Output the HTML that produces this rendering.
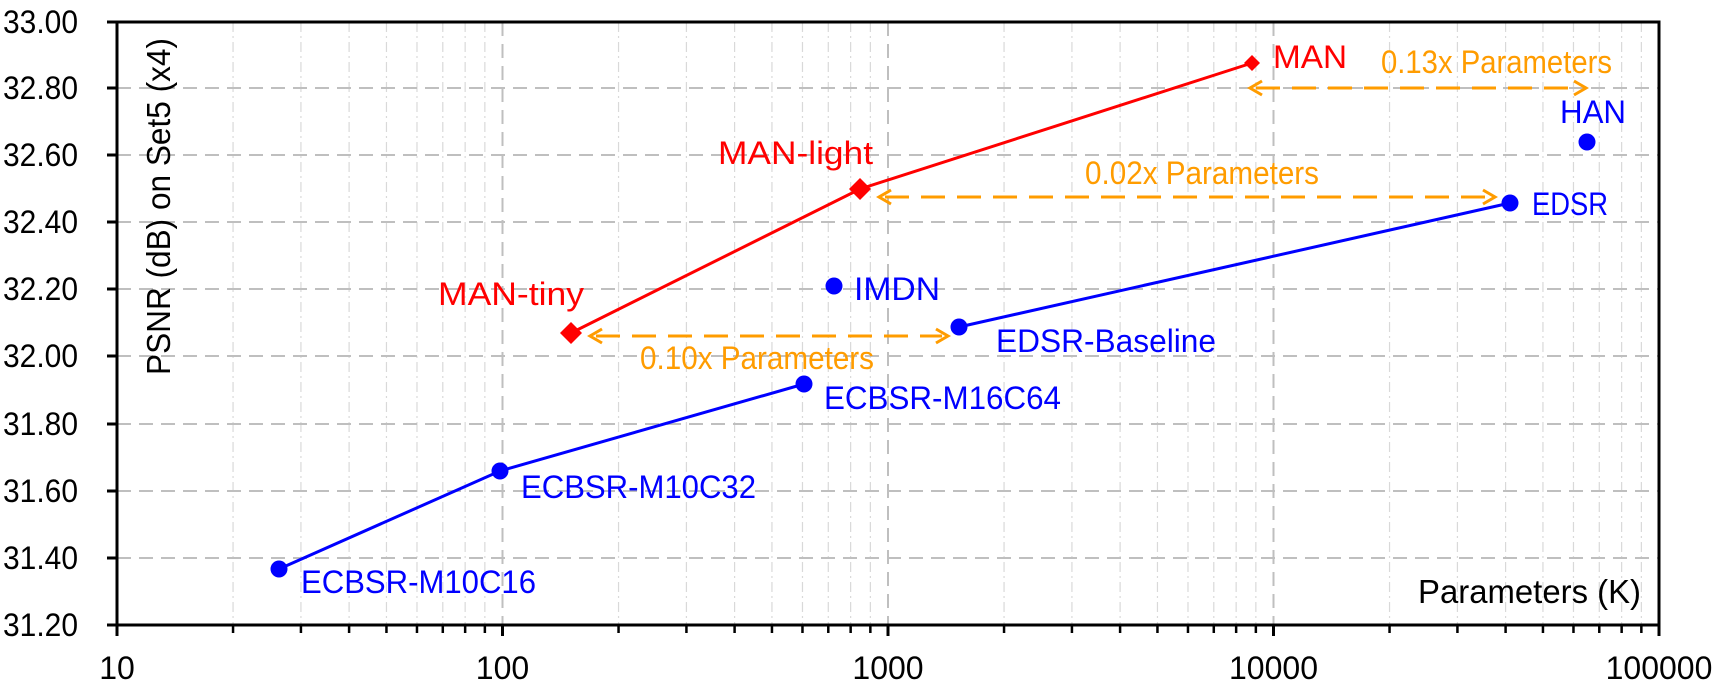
<!DOCTYPE html>
<html><head><meta charset="utf-8"><style>
html,body{margin:0;padding:0;background:#fff;}
svg{display:block;}
text{font-family:"Liberation Sans",sans-serif;font-size:32px;}
</style></head><body>
<svg width="1724" height="691" viewBox="0 0 1724 691" xmlns="http://www.w3.org/2000/svg">
<g id="minor" stroke="#d9d9d9" stroke-width="1.2" stroke-dasharray="10 4 2 4">
</g>
<script>
(function(){
var g=document.getElementById('minor');var ns="http://www.w3.org/2000/svg";
var L=117,D=385.5;
for(var d=0;d<4;d++){for(var k=2;k<=9;k++){var x=L+D*(d+Math.log10(k));
var l=document.createElementNS(ns,'line');l.setAttribute('x1',x);l.setAttribute('x2',x);l.setAttribute('y1',22);l.setAttribute('y2',625);g.appendChild(l);
var t=document.createElementNS(ns,'line');t.setAttribute('x1',x);t.setAttribute('x2',x);t.setAttribute('y1',625);t.setAttribute('y2',633);t.setAttribute('stroke','#000');t.setAttribute('stroke-width','2.5');t.setAttribute('stroke-dasharray','none');g.appendChild(t);}}
})();
</script>
<g stroke="#bfbfbf" stroke-width="2" stroke-dasharray="14 8">
<line x1="502.5" y1="22" x2="502.5" y2="625"/>
<line x1="888" y1="22" x2="888" y2="625"/>
<line x1="1273.5" y1="22" x2="1273.5" y2="625"/>
<line x1="117" y1="88" x2="1659" y2="88"/>
<line x1="117" y1="155" x2="1659" y2="155"/>
<line x1="117" y1="222" x2="1659" y2="222"/>
<line x1="117" y1="289" x2="1659" y2="289"/>
<line x1="117" y1="356" x2="1659" y2="356"/>
<line x1="117" y1="424" x2="1659" y2="424"/>
<line x1="117" y1="491" x2="1659" y2="491"/>
<line x1="117" y1="558" x2="1659" y2="558"/>
</g>
<g stroke="#000" stroke-width="3">
<rect x="117" y="22" width="1542" height="603" fill="none"/>
<line x1="107" y1="22" x2="117" y2="22"/><line x1="107" y1="88" x2="117" y2="88"/><line x1="107" y1="155" x2="117" y2="155"/><line x1="107" y1="222" x2="117" y2="222"/><line x1="107" y1="289" x2="117" y2="289"/><line x1="107" y1="356" x2="117" y2="356"/><line x1="107" y1="424" x2="117" y2="424"/><line x1="107" y1="491" x2="117" y2="491"/><line x1="107" y1="558" x2="117" y2="558"/><line x1="107" y1="625" x2="117" y2="625"/>
<line x1="117" y1="625" x2="117" y2="636"/><line x1="502.5" y1="625" x2="502.5" y2="636"/><line x1="888" y1="625" x2="888" y2="636"/><line x1="1273.5" y1="625" x2="1273.5" y2="636"/><line x1="1659" y1="625" x2="1659" y2="636"/>
</g>
<g fill="#000">
<text x="3" y="33" textLength="75" lengthAdjust="spacingAndGlyphs">33.00</text><text x="3" y="99" textLength="75" lengthAdjust="spacingAndGlyphs">32.80</text><text x="3" y="166" textLength="75" lengthAdjust="spacingAndGlyphs">32.60</text><text x="3" y="233" textLength="75" lengthAdjust="spacingAndGlyphs">32.40</text><text x="3" y="300" textLength="75" lengthAdjust="spacingAndGlyphs">32.20</text><text x="3" y="367" textLength="75" lengthAdjust="spacingAndGlyphs">32.00</text><text x="3" y="435" textLength="75" lengthAdjust="spacingAndGlyphs">31.80</text><text x="3" y="502" textLength="75" lengthAdjust="spacingAndGlyphs">31.60</text><text x="3" y="569" textLength="75" lengthAdjust="spacingAndGlyphs">31.40</text><text x="3" y="636" textLength="75" lengthAdjust="spacingAndGlyphs">31.20</text>
</g>
<g fill="#000" text-anchor="middle">
<text x="117" y="679">10</text><text x="502.5" y="679">100</text><text x="888" y="679">1000</text><text x="1273.5" y="679">10000</text><text x="1659" y="679">100000</text>
</g>
<text x="1418" y="603" textLength="223" lengthAdjust="spacingAndGlyphs" fill="#000" style="font-size:33px">Parameters (K)</text>
<text transform="translate(170,375) rotate(-90)" textLength="337" lengthAdjust="spacingAndGlyphs" fill="#000" style="font-size:33px">PSNR (dB) on Set5 (x4)</text>
<g stroke="#ff9c00" stroke-width="3" fill="none">
<line x1="1256" y1="88" x2="1580" y2="88" stroke-dasharray="24 12"/>
<polyline points="1262,81 1250,88 1262,95"/><polyline points="1574,81 1586,88 1574,95"/>
<line x1="885" y1="197" x2="1489" y2="197" stroke-dasharray="24 12"/>
<polyline points="891,190 879,197 891,204"/><polyline points="1483,190 1495,197 1483,204"/>
<line x1="596" y1="336" x2="942" y2="336" stroke-dasharray="24 12"/>
<polyline points="602,329 590,336 602,343"/><polyline points="936,329 948,336 936,343"/>
</g>
<g fill="#ff9c00" style="font-size:33px">
<text x="1381" y="73" textLength="231" lengthAdjust="spacingAndGlyphs">0.13x Parameters</text>
<text x="1085" y="184" textLength="234" lengthAdjust="spacingAndGlyphs">0.02x Parameters</text>
<text x="640" y="369" textLength="234" lengthAdjust="spacingAndGlyphs">0.10x Parameters</text>
</g>
<g stroke="#0000ff" stroke-width="3" fill="none">
<polyline points="279,569 500,471 804,384"/>
<line x1="959" y1="327" x2="1510" y2="203"/>
</g>
<g fill="#0000ff" style="font-size:33px">
<circle cx="279" cy="569" r="8.5"/><circle cx="500" cy="471" r="8.5"/><circle cx="804" cy="384" r="8.5"/>
<circle cx="959" cy="327" r="8.5"/><circle cx="1510" cy="203" r="8.5"/><circle cx="1587" cy="142" r="8.5"/><circle cx="834" cy="286" r="8.5"/>
<text x="301" y="593" textLength="235" lengthAdjust="spacingAndGlyphs">ECBSR-M10C16</text>
<text x="521" y="498" textLength="235" lengthAdjust="spacingAndGlyphs">ECBSR-M10C32</text>
<text x="824" y="409" textLength="237" lengthAdjust="spacingAndGlyphs">ECBSR-M16C64</text>
<text x="996" y="352" textLength="220" lengthAdjust="spacingAndGlyphs">EDSR-Baseline</text>
<text x="854" y="300" textLength="86" lengthAdjust="spacingAndGlyphs">IMDN</text>
<text x="1532" y="215" textLength="76" lengthAdjust="spacingAndGlyphs">EDSR</text>
<text x="1560" y="123" textLength="66" lengthAdjust="spacingAndGlyphs">HAN</text>
</g>
<polyline points="571,333 860,189 1252,63" stroke="#ff0000" stroke-width="3" fill="none"/>
<g fill="#ff0000" style="font-size:33px">
<polygon points="571,322 582,333 571,344 560,333"/>
<polygon points="860,178 871,189 860,200 849,189"/>
<polygon points="1252,55 1260,63 1252,71 1244,63"/>
<text x="438" y="305" textLength="146" lengthAdjust="spacingAndGlyphs">MAN-tiny</text>
<text x="718" y="164" textLength="155" lengthAdjust="spacingAndGlyphs">MAN-light</text>
<text x="1273" y="68" textLength="74" lengthAdjust="spacingAndGlyphs">MAN</text>
</g>
</svg>
</body></html>
